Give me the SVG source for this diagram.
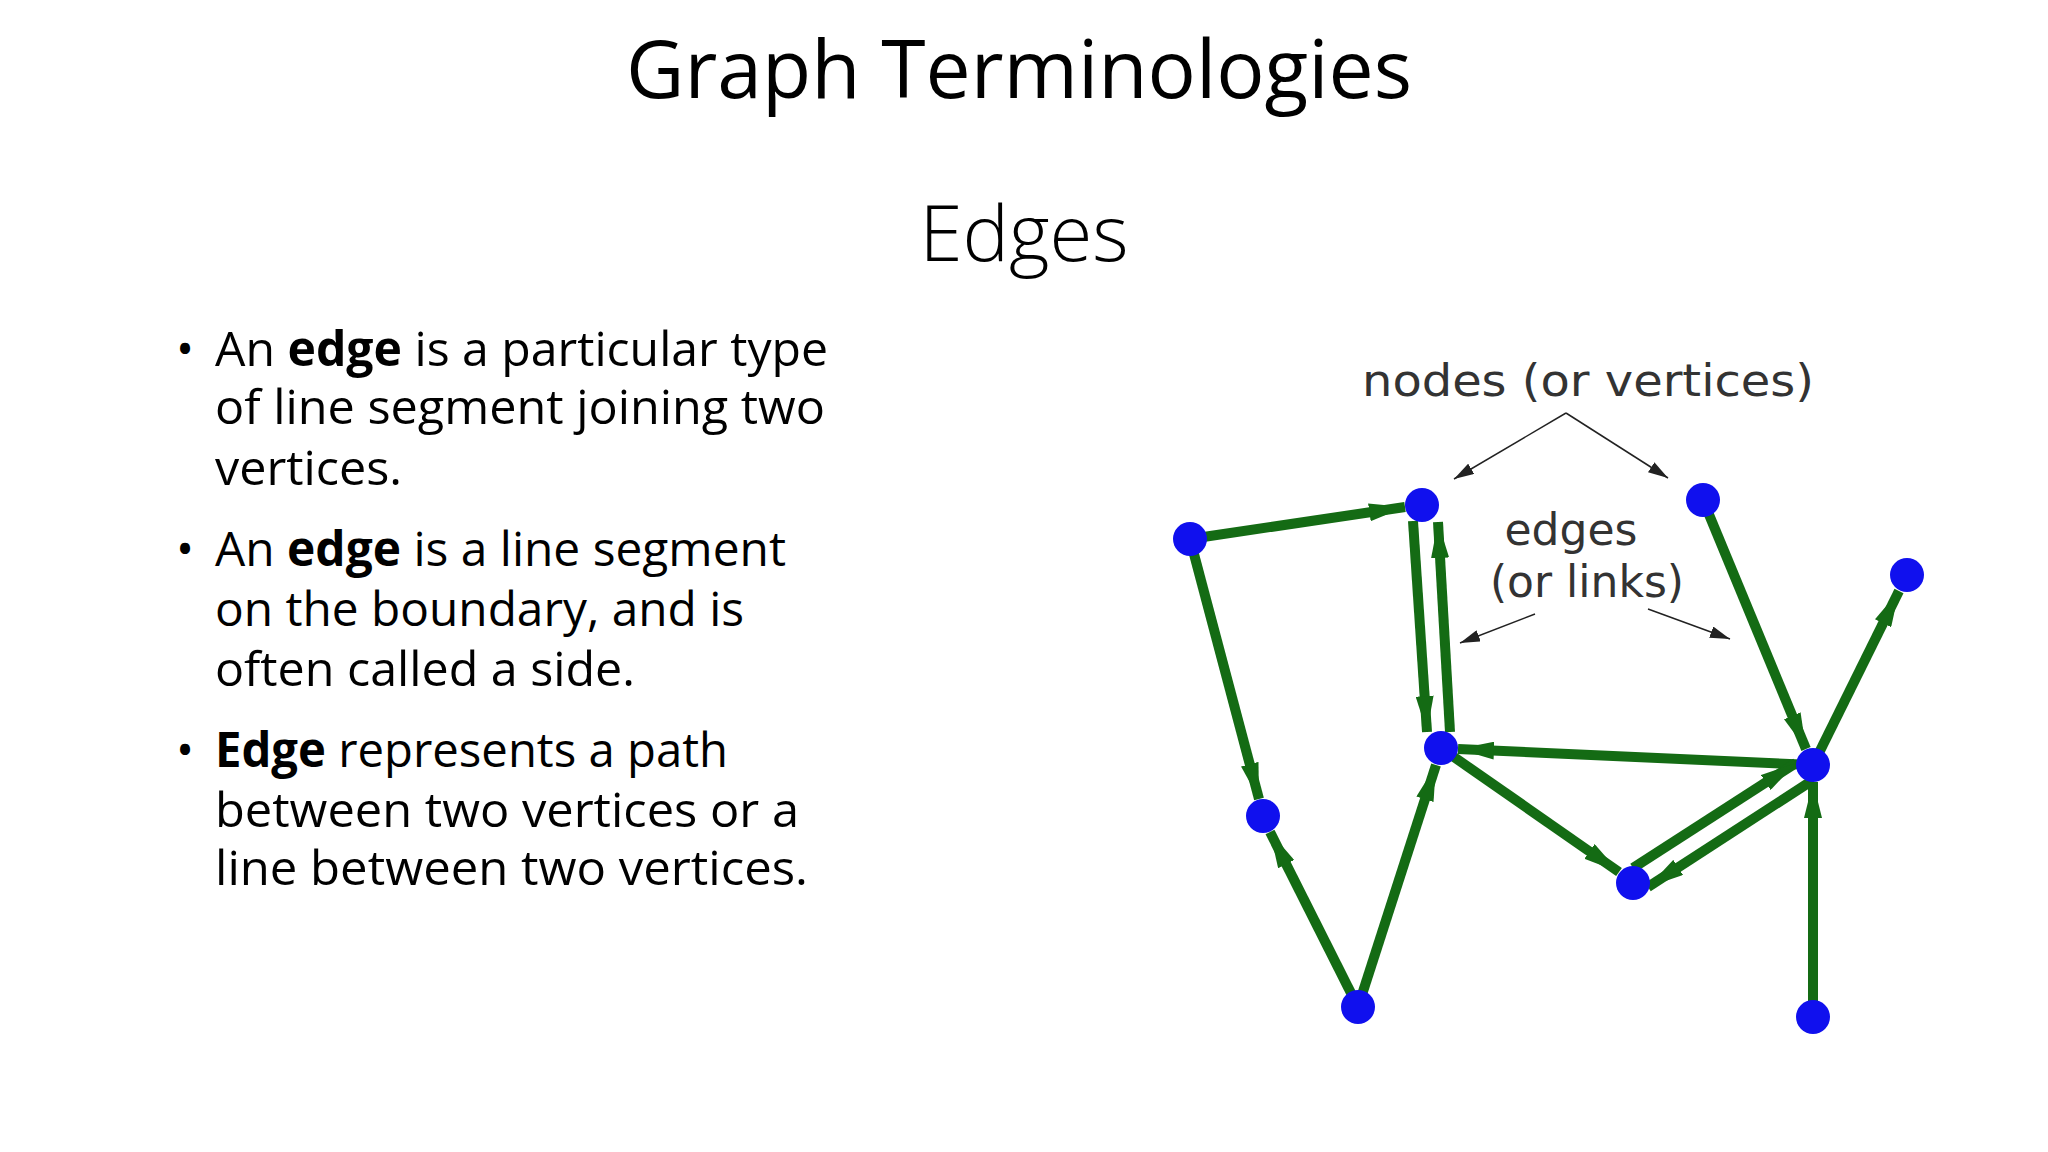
<svg xmlns="http://www.w3.org/2000/svg" width="2048" height="1152" viewBox="0 0 2048 1152">
<style>
.t{font-family:"Open Sans","Liberation Sans",sans-serif;fill:#000}
.b{font-family:"Open Sans","Liberation Sans",sans-serif;font-size:48px;fill:#000}
.a{font-family:"DejaVu Sans",sans-serif;font-size:44px;fill:#333}
.e{stroke:#146b14;stroke-width:10;fill:none;marker-end:url(#ah)}
.n{fill:#1010ee}
.p{stroke:#222;stroke-width:1.5;fill:none;marker-end:url(#sa)}
</style>
<defs>
<marker id="ah" viewBox="0 0 36 18" refX="36" refY="9" markerWidth="36" markerHeight="18" markerUnits="userSpaceOnUse" orient="auto"><path d="M0,0 L36,9 L0,18 Z" fill="#146b14"/></marker>
<marker id="sa" viewBox="0 0 20 12" refX="20" refY="6" markerWidth="20" markerHeight="12" markerUnits="userSpaceOnUse" orient="auto"><path d="M0,0 L20,6 L0,12 Z" fill="#222"/></marker>
</defs>
<rect width="2048" height="1152" fill="#fff"/>
<text class="t" x="1019" y="98" font-size="80" text-anchor="middle" textLength="786" lengthAdjust="spacingAndGlyphs">Graph Terminologies</text>
<text class="t" x="1024" y="261" font-size="78" font-weight="300" text-anchor="middle">Edges</text>
<g id="bullets">
<text class="b" x="176" y="366" font-size="40">•</text>
<text class="b" x="215" y="366" textLength="613" lengthAdjust="spacingAndGlyphs">An <tspan font-weight="bold">edge</tspan> is a particular type</text>
<text class="b" x="215" y="424" textLength="610" lengthAdjust="spacingAndGlyphs">of line segment joining two</text>
<text class="b" x="215" y="485" textLength="187" lengthAdjust="spacingAndGlyphs">vertices.</text>
<text class="b" x="176" y="566" font-size="40">•</text>
<text class="b" x="215" y="566" textLength="571" lengthAdjust="spacingAndGlyphs">An <tspan font-weight="bold">edge</tspan> is a line segment</text>
<text class="b" x="215" y="626" textLength="529" lengthAdjust="spacingAndGlyphs">on the boundary, and is</text>
<text class="b" x="215" y="686" textLength="420" lengthAdjust="spacingAndGlyphs">often called a side.</text>
<text class="b" x="176" y="767" font-size="40">•</text>
<text class="b" x="215" y="767" textLength="513" lengthAdjust="spacingAndGlyphs"><tspan font-weight="bold">Edge</tspan> represents a path</text>
<text class="b" x="215" y="827" textLength="584" lengthAdjust="spacingAndGlyphs">between two vertices or a</text>
<text class="b" x="215" y="885" textLength="593" lengthAdjust="spacingAndGlyphs">line between two vertices.</text>
</g>
<g id="labels">
<text class="a" x="1588" y="396" text-anchor="middle" textLength="452" lengthAdjust="spacingAndGlyphs">nodes (or vertices)</text>
<text class="a" x="1571" y="545" text-anchor="middle">edges</text>
<text class="a" x="1587" y="597" text-anchor="middle">(or links)</text>
</g>
<g id="connectors">
<line class="p" x1="1566" y1="413" x2="1454" y2="479"/>
<line class="p" x1="1566" y1="413" x2="1668" y2="478"/>
<line class="p" x1="1535" y1="614" x2="1460" y2="643"/>
<line class="p" x1="1648" y1="609" x2="1730" y2="639"/>
<line class="e" x1="1190" y1="539" x2="1405" y2="507"/>
<line class="e" x1="1190" y1="539" x2="1259" y2="799"/>
<line class="e" x1="1413" y1="521" x2="1427" y2="732"/>
<line class="e" x1="1450" y1="732" x2="1438" y2="522"/>
<line class="e" x1="1703" y1="500" x2="1806" y2="749"/>
<line class="e" x1="1813" y1="765" x2="1899" y2="591"/>
<line class="e" x1="1813" y1="765" x2="1458" y2="749"/>
<line class="e" x1="1441" y1="748" x2="1619" y2="872"/>
<line class="e" x1="1633" y1="868" x2="1796" y2="763"/>
<line class="e" x1="1813" y1="780" x2="1648" y2="887"/>
<line class="e" x1="1358" y1="1007" x2="1270" y2="832"/>
<line class="e" x1="1358" y1="1007" x2="1436" y2="765"/>
<line class="e" x1="1813" y1="1017" x2="1813" y2="782"/>
</g>
<g id="nodes">
<circle id="nA" class="n" cx="1190" cy="539" r="17"/>
<circle id="nB" class="n" cx="1422" cy="505" r="17"/>
<circle id="nC" class="n" cx="1703" cy="500" r="17"/>
<circle id="nD" class="n" cx="1907" cy="575" r="17"/>
<circle id="nE" class="n" cx="1441" cy="748" r="17"/>
<circle id="nF" class="n" cx="1813" cy="765" r="17"/>
<circle id="nG" class="n" cx="1263" cy="816" r="17"/>
<circle id="nH" class="n" cx="1633" cy="883" r="17"/>
<circle id="nI" class="n" cx="1358" cy="1007" r="17"/>
<circle id="nJ" class="n" cx="1813" cy="1017" r="17"/>
</g>
</svg>
